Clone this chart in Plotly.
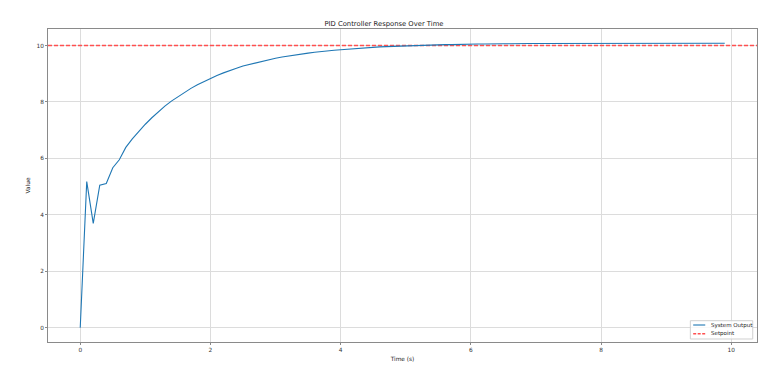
import plotly.graph_objects as go

time_s = [round(i * 0.1, 1) for i in range(100)]
output = [
    0.00, 5.18, 3.70, 5.05, 5.11, 5.67, 5.95, 6.39, 6.69, 6.96,
    7.21, 7.44, 7.65, 7.85, 8.03, 8.19, 8.34, 8.48, 8.61, 8.73,
    8.84, 8.94, 9.03, 9.12, 9.19, 9.27, 9.33, 9.39, 9.45, 9.50,
    9.55, 9.59, 9.63, 9.67, 9.70, 9.73, 9.76, 9.79, 9.81, 9.83,
    9.85, 9.87, 9.89, 9.91, 9.92, 9.93, 9.95, 9.96, 9.97, 9.98,
    9.99, 10.00, 10.00, 10.01, 10.02, 10.02, 10.03, 10.03, 10.04, 10.04,
    10.05, 10.05, 10.05, 10.06, 10.06, 10.06, 10.06, 10.07, 10.07, 10.07,
    10.07, 10.07, 10.07, 10.07, 10.08, 10.08, 10.08, 10.08, 10.08, 10.08,
    10.08, 10.08, 10.08, 10.08, 10.08, 10.08, 10.08, 10.08, 10.08, 10.08,
    10.08, 10.08, 10.08, 10.08, 10.08, 10.08, 10.08, 10.08, 10.08, 10.08,
]
setpoint = 10
x_ticks = [0, 2, 4, 6, 8, 10]
y_ticks = [0, 2, 4, 6, 8, 10]
legend_names = ["System Output", "Setpoint"]

X_RANGE = [-0.495, 10.395]
Y_RANGE = [-0.504, 10.584]

BLUE = "#1f77b4"
RED = "#ff5050"

fig = go.Figure()
# setpoint line spanning the whole axis range
fig.add_trace(go.Scatter(x=X_RANGE, y=[setpoint, setpoint], mode="lines", name=legend_names[1],
                         line=dict(color=RED, width=1.4, dash="4px,2px"), showlegend=False))
fig.add_trace(go.Scatter(x=time_s, y=output, mode="lines", name=legend_names[0],
                         line=dict(color=BLUE, width=1.1), showlegend=False))

# compact matplotlib-style legend (lower right)
fig.add_shape(type="rect", xref="paper", yref="paper", x0=0.906, x1=0.994, y0=0.0096, y1=0.068,
              line=dict(color="#d0d0d0", width=1), fillcolor="rgba(255,255,255,0.8)")
row_y = [0.0543, 0.0265]
styles = [dict(color=BLUE, width=1.1), dict(color=RED, width=1.4, dash="3px,1.5px")]
for name, yy, st in zip(legend_names, row_y, styles):
    fig.add_shape(type="line", xref="paper", yref="paper", x0=0.910, x1=0.927, y0=yy, y1=yy, line=st)
    fig.add_annotation(xref="paper", yref="paper", x=0.932, y=yy, text=name, showarrow=False,
                       xanchor="left", yanchor="middle", font=dict(size=5.5, color="#222"))

axis_common = dict(showgrid=True, gridcolor="#dcdcdc", gridwidth=1, zeroline=False,
                   showline=True, linecolor="#8a8a8a", linewidth=1, mirror=True,
                   ticks="outside", ticklen=2, tickcolor="#8a8a8a",
                   tickfont=dict(size=5.8, color="#333"))

fig.update_layout(
    width=768, height=387,
    margin=dict(l=48, r=11, t=29, b=45),
    paper_bgcolor="white", plot_bgcolor="white",
    font=dict(family="DejaVu Sans", size=5.8, color="#222"),
    title=dict(text="PID Controller Response Over Time", x=0.5, xanchor="center",
               y=1 - 23.3 / 387, yanchor="middle", font=dict(size=6.8, color="#222")),
    xaxis=dict(range=X_RANGE, tickvals=x_ticks,
               title=dict(text="Time (s)", font=dict(size=5.8), standoff=4), **axis_common),
    yaxis=dict(range=Y_RANGE, tickvals=y_ticks,
               title=dict(text="Value", font=dict(size=5.8), standoff=5), **axis_common),
    showlegend=False,
)

fig.write_html("out.html")
